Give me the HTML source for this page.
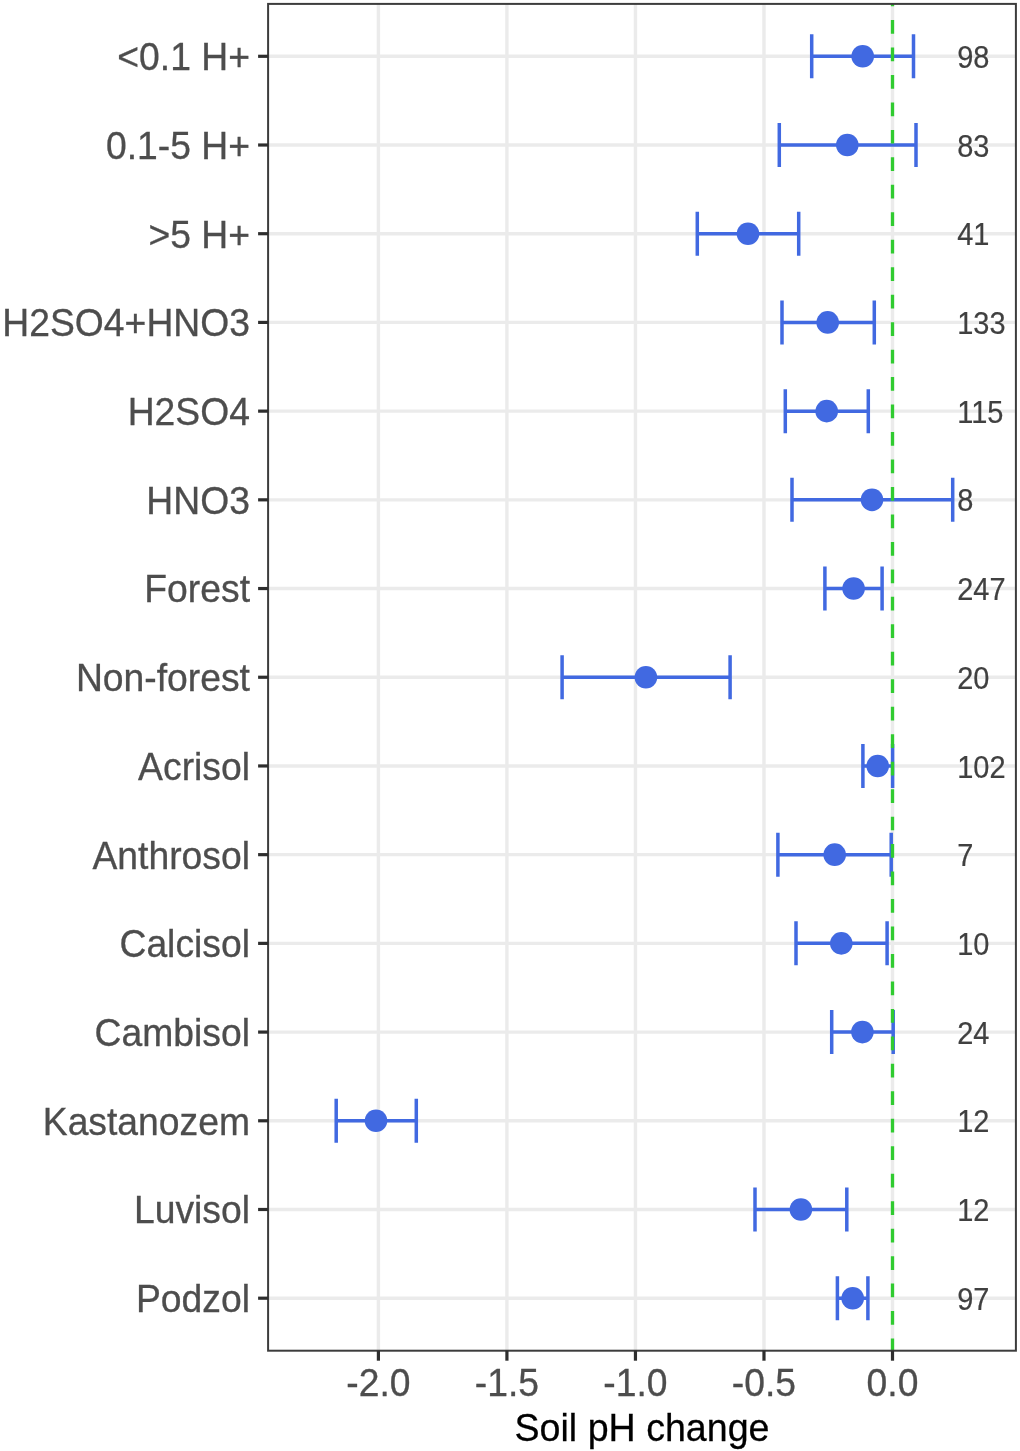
<!DOCTYPE html>
<html lang="en">
<head>
<meta charset="utf-8">
<title>Soil pH change</title>
<style>
html,body{margin:0;padding:0;background:#fff;}
body{width:1020px;height:1451px;overflow:hidden;}
svg{display:block;}
text{font-family:"Liberation Sans",Arial,Helvetica,sans-serif;}
.ax{font-size:37.3px;fill:#4d4d4d;stroke:#4d4d4d;stroke-width:0.3px;}
.lb{font-size:29px;fill:#404040;stroke:#404040;stroke-width:0.2px;}
.tt{font-size:37.6px;fill:#000;stroke:#000;stroke-width:0.25px;}
</style>
</head>
<body>
<svg width="1020" height="1451" viewBox="0 0 1020 1451">
<rect x="0" y="0" width="1020" height="1451" fill="#ffffff"/>
<g stroke="#ebebeb" stroke-width="3.4" fill="none">
<line x1="378.40" y1="3.90" x2="378.40" y2="1350.70"/>
<line x1="506.92" y1="3.90" x2="506.92" y2="1350.70"/>
<line x1="635.45" y1="3.90" x2="635.45" y2="1350.70"/>
<line x1="763.98" y1="3.90" x2="763.98" y2="1350.70"/>
<line x1="892.50" y1="3.90" x2="892.50" y2="1350.70"/>
<line x1="268.10" y1="56.30" x2="1015.90" y2="56.30"/>
<line x1="268.10" y1="145.01" x2="1015.90" y2="145.01"/>
<line x1="268.10" y1="233.71" x2="1015.90" y2="233.71"/>
<line x1="268.10" y1="322.42" x2="1015.90" y2="322.42"/>
<line x1="268.10" y1="411.13" x2="1015.90" y2="411.13"/>
<line x1="268.10" y1="499.83" x2="1015.90" y2="499.83"/>
<line x1="268.10" y1="588.54" x2="1015.90" y2="588.54"/>
<line x1="268.10" y1="677.25" x2="1015.90" y2="677.25"/>
<line x1="268.10" y1="765.96" x2="1015.90" y2="765.96"/>
<line x1="268.10" y1="854.66" x2="1015.90" y2="854.66"/>
<line x1="268.10" y1="943.37" x2="1015.90" y2="943.37"/>
<line x1="268.10" y1="1032.08" x2="1015.90" y2="1032.08"/>
<line x1="268.10" y1="1120.78" x2="1015.90" y2="1120.78"/>
<line x1="268.10" y1="1209.49" x2="1015.90" y2="1209.49"/>
<line x1="268.10" y1="1298.20" x2="1015.90" y2="1298.20"/>
</g>
<g stroke="#4169e1" stroke-width="3.5" fill="none">
<path d="M811.70 34.30V78.30M913.50 34.30V78.30M811.70 56.30H913.50"/>
<path d="M779.30 123.01V167.01M916.00 123.01V167.01M779.30 145.01H916.00"/>
<path d="M697.30 211.71V255.71M798.70 211.71V255.71M697.30 233.71H798.70"/>
<path d="M782.00 300.42V344.42M874.30 300.42V344.42M782.00 322.42H874.30"/>
<path d="M785.30 389.13V433.13M868.30 389.13V433.13M785.30 411.13H868.30"/>
<path d="M792.00 477.83V521.84M952.70 477.83V521.84M792.00 499.83H952.70"/>
<path d="M824.90 566.54V610.54M882.10 566.54V610.54M824.90 588.54H882.10"/>
<path d="M562.10 655.25V699.25M730.10 655.25V699.25M562.10 677.25H730.10"/>
<path d="M862.90 743.96V787.96M892.60 743.96V787.96M862.90 765.96H892.60"/>
<path d="M777.90 832.66V876.66M891.20 832.66V876.66M777.90 854.66H891.20"/>
<path d="M796.00 921.37V965.37M887.10 921.37V965.37M796.00 943.37H887.10"/>
<path d="M831.70 1010.08V1054.08M893.20 1010.08V1054.08M831.70 1032.08H893.20"/>
<path d="M336.20 1098.78V1142.78M416.30 1098.78V1142.78M336.20 1120.78H416.30"/>
<path d="M755.00 1187.49V1231.49M846.80 1187.49V1231.49M755.00 1209.49H846.80"/>
<path d="M837.40 1276.20V1320.20M867.90 1276.20V1320.20M837.40 1298.20H867.90"/>
</g>
<g fill="#4169e1">
<circle cx="862.70" cy="56.30" r="11.3"/>
<circle cx="847.30" cy="145.01" r="11.3"/>
<circle cx="748.00" cy="233.71" r="11.3"/>
<circle cx="827.70" cy="322.42" r="11.3"/>
<circle cx="826.70" cy="411.13" r="11.3"/>
<circle cx="872.00" cy="499.83" r="11.3"/>
<circle cx="853.60" cy="588.54" r="11.3"/>
<circle cx="645.90" cy="677.25" r="11.3"/>
<circle cx="877.70" cy="765.96" r="11.3"/>
<circle cx="834.70" cy="854.66" r="11.3"/>
<circle cx="841.30" cy="943.37" r="11.3"/>
<circle cx="862.40" cy="1032.08" r="11.3"/>
<circle cx="376.00" cy="1120.78" r="11.3"/>
<circle cx="800.90" cy="1209.49" r="11.3"/>
<circle cx="852.70" cy="1298.20" r="11.3"/>
</g>
<line x1="892.50" y1="3.90" x2="892.50" y2="1350.70" stroke="#30cb30" stroke-width="3.3" stroke-dasharray="13.735 13.735" stroke-dashoffset="11.37"/>
<g class="lb" transform="scale(1,1.055)">
<text x="957.20" y="64.36">98</text>
<text x="957.20" y="148.44">83</text>
<text x="957.20" y="232.53">41</text>
<text x="957.20" y="316.61">133</text>
<text x="957.20" y="400.69">115</text>
<text x="957.20" y="484.77">8</text>
<text x="957.20" y="568.85">247</text>
<text x="957.20" y="652.94">20</text>
<text x="957.20" y="737.02">102</text>
<text x="957.20" y="821.10">7</text>
<text x="957.20" y="905.18">10</text>
<text x="957.20" y="989.27">24</text>
<text x="957.20" y="1073.35">12</text>
<text x="957.20" y="1157.43">12</text>
<text x="957.20" y="1241.51">97</text>
</g>
<rect x="268.10" y="3.90" width="747.80" height="1346.80" fill="none" stroke="#3c3c3c" stroke-width="2"/>
<g stroke="#2e2e2e" stroke-width="3.2">
<line x1="258.10" y1="56.30" x2="268.10" y2="56.30"/>
<line x1="258.10" y1="145.01" x2="268.10" y2="145.01"/>
<line x1="258.10" y1="233.71" x2="268.10" y2="233.71"/>
<line x1="258.10" y1="322.42" x2="268.10" y2="322.42"/>
<line x1="258.10" y1="411.13" x2="268.10" y2="411.13"/>
<line x1="258.10" y1="499.83" x2="268.10" y2="499.83"/>
<line x1="258.10" y1="588.54" x2="268.10" y2="588.54"/>
<line x1="258.10" y1="677.25" x2="268.10" y2="677.25"/>
<line x1="258.10" y1="765.96" x2="268.10" y2="765.96"/>
<line x1="258.10" y1="854.66" x2="268.10" y2="854.66"/>
<line x1="258.10" y1="943.37" x2="268.10" y2="943.37"/>
<line x1="258.10" y1="1032.08" x2="268.10" y2="1032.08"/>
<line x1="258.10" y1="1120.78" x2="268.10" y2="1120.78"/>
<line x1="258.10" y1="1209.49" x2="268.10" y2="1209.49"/>
<line x1="258.10" y1="1298.20" x2="268.10" y2="1298.20"/>
<line x1="378.40" y1="1350.70" x2="378.40" y2="1360.70"/>
<line x1="506.92" y1="1350.70" x2="506.92" y2="1360.70"/>
<line x1="635.45" y1="1350.70" x2="635.45" y2="1360.70"/>
<line x1="763.98" y1="1350.70" x2="763.98" y2="1360.70"/>
<line x1="892.50" y1="1350.70" x2="892.50" y2="1360.70"/>
</g>
<g class="ax" text-anchor="end">
<text transform="scale(1,1.055)" x="250.00" y="66.54">&lt;0.1 H+</text>
<text transform="scale(1,1.055)" x="250.00" y="150.62">0.1-5 H+</text>
<text transform="scale(1,1.055)" x="250.00" y="234.71">&gt;5 H+</text>
<text transform="scale(1,1.055)" x="250.00" y="318.79">H2SO4+HNO3</text>
<text transform="scale(1,1.055)" x="250.00" y="402.87">H2SO4</text>
<text transform="scale(1,1.055)" x="250.00" y="486.95">HNO3</text>
<text transform="scale(1,1.035)" x="250.00" y="582.07">Forest</text>
<text transform="scale(1,1.035)" x="250.00" y="667.78">Non-forest</text>
<text transform="scale(1,1.035)" x="250.00" y="753.48">Acrisol</text>
<text transform="scale(1,1.035)" x="250.00" y="839.19">Anthrosol</text>
<text transform="scale(1,1.035)" x="250.00" y="924.90">Calcisol</text>
<text transform="scale(1,1.035)" x="250.00" y="1010.61">Cambisol</text>
<text transform="scale(1,1.035)" x="250.00" y="1096.31">Kastanozem</text>
<text transform="scale(1,1.035)" x="250.00" y="1182.02">Luvisol</text>
<text transform="scale(1,1.035)" x="250.00" y="1267.73">Podzol</text>
</g>
<g class="ax" text-anchor="middle" transform="scale(1,1.055)">
<text x="378.40" y="1322.94">-2.0</text>
<text x="506.92" y="1322.94">-1.5</text>
<text x="635.45" y="1322.94">-1.0</text>
<text x="763.98" y="1322.94">-0.5</text>
<text x="892.50" y="1322.94">0.0</text>
</g>
<text class="tt" text-anchor="middle" transform="scale(1,1.035)" x="642.00" y="1392.08">Soil pH change</text>
</svg>
</body>
</html>
